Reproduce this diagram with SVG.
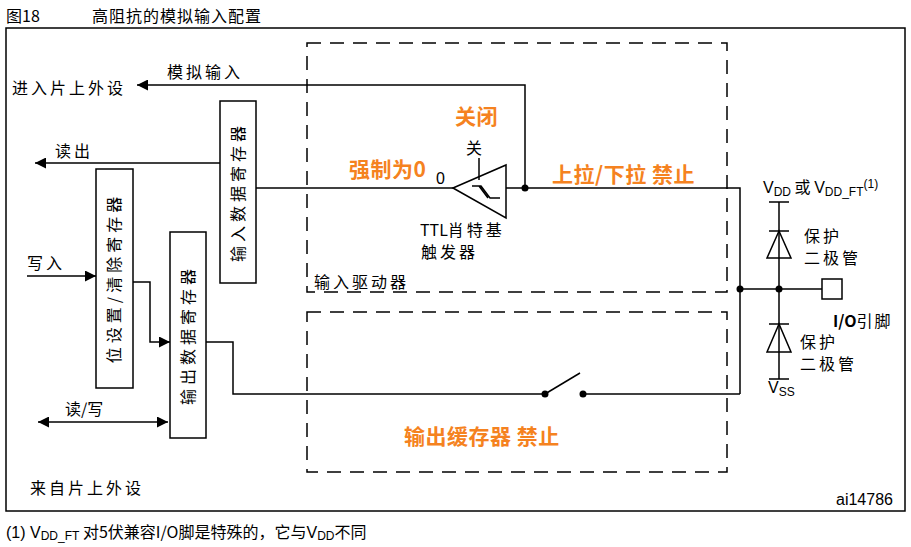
<svg xmlns="http://www.w3.org/2000/svg" width="911" height="547" viewBox="0 0 911 547">
<defs>
<marker id="ah" viewBox="0 0 10 10" refX="10" refY="5" markerWidth="11" markerHeight="11" markerUnits="userSpaceOnUse" orient="auto-start-reverse"><path d="M0,0 L10,5 L0,10 z" fill="#000"/></marker>
</defs>
<style>
text{font-family:"Noto Sans CJK SC","Liberation Sans",sans-serif;font-size:16px;fill:#000;letter-spacing:3px}
.l{stroke:#000;stroke-width:1.5;fill:none}
.d{stroke:#000;stroke-width:1.5;fill:none;stroke-dasharray:14,9}
.box{stroke:#000;stroke-width:1.5;fill:#fff}
.o{fill:#f58220;font-weight:bold;font-size:21px;letter-spacing:0.5px}
.v{text-anchor:middle;letter-spacing:4px;font-size:16px}
.s{font-family:"Liberation Sans",sans-serif;letter-spacing:0}
.n{letter-spacing:0}
</style>
<rect width="911" height="547" fill="#fff"/>
<text x="6" y="22" font-size="18"><tspan class="n">图18</tspan><tspan x="92" letter-spacing="1">高阻抗的模拟输入配置</tspan></text>
<rect x="6" y="28" width="899" height="483" class="l"/>
<rect x="307" y="43" width="420" height="249" class="d"/>
<rect x="307" y="312" width="420" height="160" class="d"/>
<g id="connectors">
<path class="l" d="M525,188 V85 H137" marker-end="url(#ah)"/>
<path class="l" d="M220,163 H35" marker-end="url(#ah)"/>
<path class="l" d="M27,276 H96" marker-end="url(#ah)"/>
<path class="l" d="M133,282 H150 V342 H170" marker-end="url(#ah)"/>
<path class="l" d="M38,422 H168" marker-start="url(#ah)" marker-end="url(#ah)"/>
<path class="l" d="M206,342 H233 V394 H545"/>
<path class="l" d="M545,394 L580,373"/>
<path class="l" d="M583,394 H740"/>
<path class="l" d="M256,188 H453"/>
<path class="l" d="M506,188 H740 V394"/>
<path class="l" d="M740,289 H822"/>
<path class="l" d="M479,158 V180"/>
<circle cx="525" cy="188" r="3.5"/>
<circle cx="740" cy="289" r="3.5"/>
<circle cx="779" cy="289" r="3.5"/>
<circle cx="545" cy="394" r="3.5"/>
<circle cx="583" cy="394" r="3.5"/>
</g>
<g id="input-data-reg"><rect x="220" y="101" width="36" height="182" class="box"/><text transform="translate(244,192) rotate(-90)" class="v">输入数据寄存器</text></g>
<g id="bitset-reg"><rect x="96" y="169" width="37" height="219" class="box"/><text transform="translate(120,278) rotate(-90)" class="v">位设置/清除寄存器</text></g>
<g id="output-data-reg"><rect x="170" y="232" width="36" height="206" class="box"/><text transform="translate(194,335) rotate(-90)" class="v">输出数据寄存器</text></g>
<g id="trigger">
<path class="l" d="M453,188 L506,165 V218 Z" fill="#fff"/>
<path class="l" stroke-width="1" d="M472,186 H481 L490,198 H500 M479,186 L488,198"/>
<text x="466" y="154">关</text>
<text x="420" y="236" font-size="15" letter-spacing="1"><tspan class="n">TTL</tspan>肖特基</text>
<text x="421" y="258" font-size="15" letter-spacing="2">触发器</text>
</g>
<g id="diodes">
<path class="l" d="M779,202 V379 M769,202 H789 M769,231 H789 M769,324 H789 M769,379 H789"/>
<path class="l" d="M779,231 L767,258 H791 Z M779,324 L767,352 H791 Z"/>
<rect x="822" y="279" width="20" height="20" class="box"/>
</g>
<text x="167" y="78">模拟输入</text>
<text x="12" y="94">进入片上外设</text>
<text x="55" y="157">读出</text>
<text x="27" y="269">写入</text>
<text x="65" y="415" class="n">读/写</text>
<text x="30" y="494" font-size="17">来自片上外设</text>
<text x="314" y="288">输入驱动器</text>
<text x="455" y="124" class="o">关闭</text>
<text x="349" y="177" class="o">强制为0</text>
<text x="436" y="184" class="s" font-size="13">0</text>
<text x="552" y="182" class="o">上拉/下拉 禁止</text>
<text x="404" y="444" class="o">输出缓存器 禁止</text>
<text x="763" y="193" class="s" font-size="15">V<tspan font-size="12" dy="3">DD</tspan><tspan dy="-3" font-family="Noto Sans CJK SC"> 或 </tspan>V<tspan font-size="12" dy="3">DD_FT</tspan><tspan font-size="12" dy="-8">(1)</tspan></text>
<text x="804" y="242">保护</text>
<text x="804" y="264">二极管</text>
<text x="800" y="348">保护</text>
<text x="800" y="370">二极管</text>
<text x="833" y="327" font-weight="bold" class="n">I/O<tspan font-weight="normal" letter-spacing="2">引脚</tspan></text>
<text x="768" y="393" class="s" font-size="15">V<tspan font-size="12" dy="3">SS</tspan></text>
<text x="836" y="505" class="s" font-size="12">ai14786</text>
<text x="6" y="538" class="s" font-size="16">(1) V<tspan font-size="12" dy="2">DD_FT</tspan><tspan dy="-2" font-family="Noto Sans CJK SC"> 对5伏兼容I/O脚是特殊的，它与</tspan>V<tspan font-size="12" dy="2">DD</tspan><tspan dy="-2" font-family="Noto Sans CJK SC">不同</tspan></text>
</svg>
